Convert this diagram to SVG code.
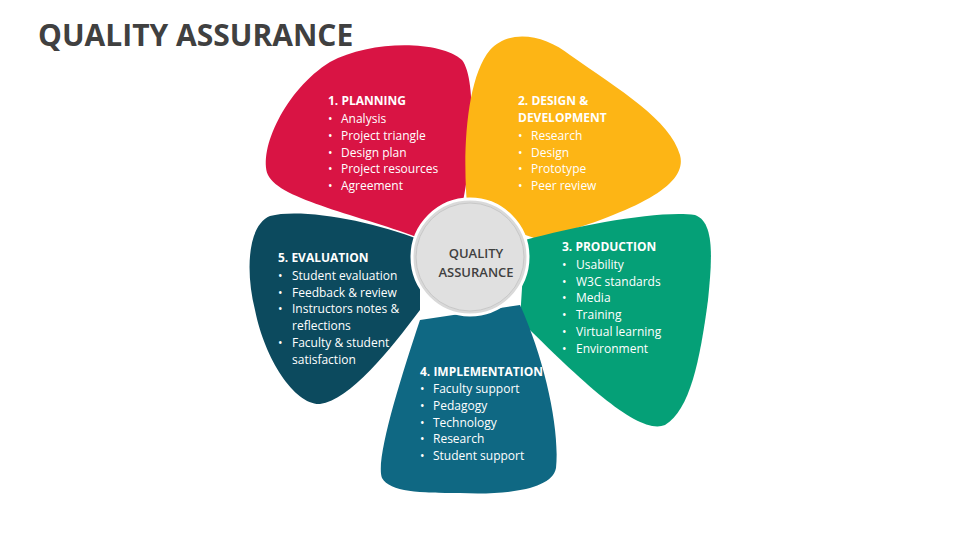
<svg xmlns="http://www.w3.org/2000/svg" width="960" height="540" viewBox="0 0 960 540">
<style>
text{font-family:"Open Sans","Liberation Sans",sans-serif;fill:#fff;font-size:12px}
.h{font-weight:bold}
.c{fill:#404040;font-size:13px;text-anchor:middle;font-weight:600}
</style>
<rect width="960" height="540" fill="#fff"/>
<text x="38" y="46" style="font-size:30px;font-weight:bold;fill:#404040">QUALITY ASSURANCE</text>
<g id="connectors"></g>
<g id="planning">
<path d="M425 240C360 215 280 200 268 175C258 150 285 90 330 62C370 40 440 40 462 60C478 80 472 170 460 215Z" fill="#d91444"/>
<text x="328" y="105" class="h">1. PLANNING</text>
<text x="328" y="123">•<tspan x="341">Analysis</tspan></text><text x="328" y="140">•<tspan x="341">Project triangle</tspan></text><text x="328" y="157">•<tspan x="341">Design plan</tspan></text><text x="328" y="173">•<tspan x="341">Project resources</tspan></text><text x="328" y="190">•<tspan x="341">Agreement</tspan></text>
</g>
<g id="design">
<path d="M468 215C462 160 465 80 490 50C510 28 545 35 570 55C620 90 670 120 680 155C688 185 640 210 540 240Z" fill="#fdb515"/>
<text x="518" y="105" class="h">2. DESIGN &amp;</text><text x="518" y="122" class="h">DEVELOPMENT</text>
<text x="518" y="140">•<tspan x="531">Research</tspan></text><text x="518" y="157">•<tspan x="531">Design</tspan></text><text x="518" y="173">•<tspan x="531">Prototype</tspan></text><text x="518" y="190">•<tspan x="531">Peer review</tspan></text>
</g>
<g id="production">
<path d="M525 240C580 225 660 210 695 215C715 222 712 260 708 300C700 360 690 410 665 425C640 435 590 390 520 320Z" fill="#05a077"/>
<text x="562" y="251" class="h">3. PRODUCTION</text>
<text x="562" y="269">•<tspan x="576">Usability</tspan></text><text x="562" y="286">•<tspan x="576">W3C standards</tspan></text><text x="562" y="302">•<tspan x="576">Media</tspan></text><text x="562" y="319">•<tspan x="576">Training</tspan></text><text x="562" y="336">•<tspan x="576">Virtual learning</tspan></text><text x="562" y="353">•<tspan x="576">Environment</tspan></text>
</g>
<g id="implementation">
<path d="M520 305C545 360 560 430 556 468C552 490 505 495 460 493C420 493 390 492 382 478C375 460 400 380 420 320Z" fill="#0f6883"/>
<text x="420" y="376" class="h">4. IMPLEMENTATION</text>
<text x="420" y="393">•<tspan x="433">Faculty support</tspan></text><text x="420" y="410">•<tspan x="433">Pedagogy</tspan></text><text x="420" y="427">•<tspan x="433">Technology</tspan></text><text x="420" y="443">•<tspan x="433">Research</tspan></text><text x="420" y="460">•<tspan x="433">Student support</tspan></text>
</g>
<g id="evaluation">
<path d="M420 310C390 350 350 400 320 404C295 405 265 360 255 310C245 270 248 225 270 216C300 208 370 220 420 240Z" fill="#0c4a5e"/>
<text x="278" y="262" class="h">5. EVALUATION</text>
<text x="278" y="280">•<tspan x="292">Student evaluation</tspan></text><text x="278" y="297">•<tspan x="292">Feedback &amp; review</tspan></text><text x="278" y="313">•<tspan x="292">Instructors notes &amp;</tspan></text><text x="292" y="330">reflections</text><text x="278" y="347">•<tspan x="292">Faculty &amp; student</tspan></text><text x="292" y="364">satisfaction</text>
</g>
<g id="center">
<circle cx="470" cy="257" r="58" fill="#d9d9d9" stroke="#fff" stroke-width="3"/>
<circle cx="470" cy="257" r="54" fill="#e0e0e0" stroke="#c8c8c8" stroke-width="1"/>
<text x="476" y="258" class="c">QUALITY</text><text x="476" y="277" class="c">ASSURANCE</text>
</g>
</svg>
